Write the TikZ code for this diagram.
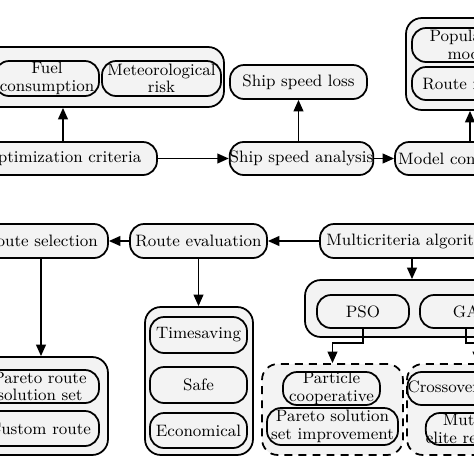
\documentclass[tikz,border=0pt]{standalone}
\usetikzlibrary{arrows.meta}
\definecolor{boxgray}{HTML}{F3F3F3}
\begin{document}
\begin{tikzpicture}[x=0.02cm,y=-0.02cm,
  font=\fontsize{9.4}{10}\selectfont,
  box/.style={draw,fill=boxgray,line width=1pt,rounded corners=8pt,align=center,inner sep=0pt},
  group/.style={box,rounded corners=9pt},
  dgroup/.style={group,dash pattern=on 4.5pt off 3.5pt},
  arr/.style={line width=1pt,-{Triangle[length=6.5pt,width=5.5pt]}}]
\useasboundingbox (0,0) rectangle (474,474);
\clip (0,0) rectangle (474,474);
% upper row
\node[group,minimum width=4.8cm,minimum height=1.2cm] (critgroup) at (104,77) {};
\node[box,minimum width=2.08cm,minimum height=0.7cm] (fuel) at (47,78.5) {Fuel\\consumption};
\node[box,minimum width=2.38cm,minimum height=0.7cm] (met) at (161.5,78.5) {Meteorological\\risk};
\node[box,minimum width=2.74cm,minimum height=0.68cm] (loss) at (298.5,82) {Ship speed loss};
\node[group,minimum width=2.56cm,minimum height=1.84cm] (topgroup) at (470,64) {};
\node[box,minimum width=2.32cm,minimum height=0.68cm] (pop) at (470,45) {Population\\model};
\node[box,minimum width=2.32cm,minimum height=0.66cm] (rmodel) at (470,83.5) {Route model};
\node[box,minimum width=3.76cm,minimum height=0.66cm] (crit) at (63,158.5) {Optimization criteria};
\node[box,minimum width=2.86cm,minimum height=0.66cm] (speed) at (301.5,158.5) {Ship speed analysis};
\node[box,minimum width=3cm,minimum height=0.66cm] (model) at (470,158.5) {Model construction};
\draw[arr] (crit.north) -- (crit.north |- critgroup.south);
\draw[arr] (loss.south |- speed.north) -- (loss.south);
\draw[arr] (crit) -- (speed);
\draw[arr] (speed) -- (model);
\draw[arr] (model.north) -- (topgroup.south);
% lower row
\node[box,minimum width=2.68cm,minimum height=0.68cm] (sel) at (41,241) {Route selection};
\node[box,minimum width=2.74cm,minimum height=0.68cm] (eval) at (198.5,241) {Route evaluation};
\node[box,minimum width=3.68cm,minimum height=0.68cm] (multi) at (412,241) {Multicriteria algorithm};
\node[group,minimum width=4.38cm,minimum height=1.14cm] (algogroup) at (414.5,308.5) {};
\node[box,minimum width=1.84cm,minimum height=0.66cm] (pso) at (363,311.5) {PSO};
\node[box,minimum width=1.84cm,minimum height=0.66cm] (ga) at (466,311.5) {GA};
\node[dgroup,minimum width=2.82cm,minimum height=1.82cm] (psogroup) at (332.5,409.5) {};
\node[box,minimum width=1.94cm,minimum height=0.66cm] (part) at (331.5,388.5) {Particle\\cooperative};
\node[box,minimum width=2.62cm,minimum height=0.74cm] (paretoset) at (332.5,426.5) {Pareto solution\\set improvement};
\node[dgroup,minimum width=2.82cm,minimum height=1.82cm] (gagroup) at (477.5,409.5) {};
\node[box,minimum width=2.7cm,minimum height=0.66cm] (cross) at (477.5,388.5) {Crossover operator};
\node[box,minimum width=1.9cm,minimum height=0.64cm] (mut) at (477.5,429) {Mutation\\elite retention};
\node[group,minimum width=2.16cm,minimum height=2.96cm] (evalgroup) at (199,381) {};
\node[box,minimum width=1.94cm,minimum height=0.72cm] (times) at (198.5,335) {Timesaving};
\node[box,minimum width=1.94cm,minimum height=0.72cm] (safe) at (198.5,385) {Safe};
\node[box,minimum width=1.94cm,minimum height=0.7cm] (econ) at (198.5,430.5) {Economical};
\node[group,minimum width=2.72cm,minimum height=1.96cm] (selgroup) at (40,406) {};
\node[box,minimum width=2.36cm,minimum height=0.66cm] (prs) at (40,386.5) {Pareto route\\solution set};
\node[box,minimum width=2.36cm,minimum height=0.7cm] (custom) at (40,428.5) {Custom route};
\draw[arr] (multi) -- (eval);
\draw[arr] (eval) -- (sel);
\draw[arr] (eval.south) -- (eval.south |- evalgroup.north);
\draw[arr] (sel.south) -- (sel.south |- selgroup.north);
\draw[arr] (multi.south) -- (multi.south |- algogroup.north);
\draw[arr] (pso.south) -- ++(0,14) -| (psogroup.north);
\draw[arr] (ga.south) -- ++(0,14) -| (gagroup.north);
\end{tikzpicture}
\end{document}
